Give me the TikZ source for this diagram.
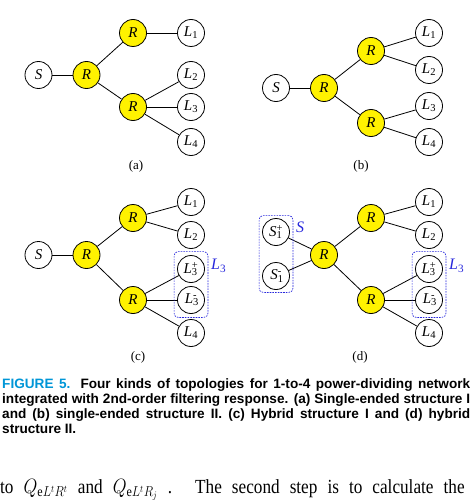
\documentclass[tikz,border=0pt]{standalone}
\usepackage{fontspec}
\setmainfont{Liberation Serif}
\newfontfamily\capfont{Liberation Sans}
\usetikzlibrary{fit}
\definecolor{ryel}{RGB}{255,242,0}
\definecolor{bblue}{RGB}{40,40,220}
\definecolor{figcyan}{RGB}{0,150,215}
\tikzset{
 nd/.style={circle, draw, line width=0.8pt, minimum size=27pt, inner sep=0pt, font=\fontsize{15}{15}\selectfont},
 res/.style={nd, fill=ryel},
 ld/.style={nd, fill=white},
 edge/.style={line width=0.8pt},
 grp/.style={draw=bblue, dash pattern=on 1.6pt off 1.1pt, rounded corners=4pt, line width=0.7pt},
 glab/.style={text=bblue, font=\fontsize{16}{16}\selectfont, inner sep=0pt},
 sublab/.style={font=\fontsize{13}{13}\selectfont, inner sep=0pt},
 capline/.style={anchor=base west, inner sep=0pt, font=\capfont\bfseries\fontsize{13.6}{15}\selectfont}
}
\newcommand\Lx[1]{\textit{L}\textsubscript{#1}}
\newcommand\Lpm[1]{\textit{L}\makebox[0pt][l]{\textsubscript{3}}\textsuperscript{#1}}
\newcommand\Spm[1]{\textit{S}\makebox[0pt][l]{\textsubscript{1}}\textsuperscript{#1}}
\begin{document}
\begin{tikzpicture}[x=1pt,y=-1pt]
\useasboundingbox (0,0) rectangle (474,500);
% ---------- (a)
\node[ld]  (aS)  at (38.5,75)  {\textit{S}};
\node[res] (aR)  at (86.5,75)  {\textit{R}};
\node[res] (aRt) at (133,33)   {\textit{R}};
\node[res] (aRb) at (133,107)  {\textit{R}};
\node[ld]  (aL1) at (191,33)   {\Lx{1}};
\node[ld]  (aL2) at (191,75)   {\Lx{2}};
\node[ld]  (aL3) at (191,107)  {\Lx{3}};
\node[ld]  (aL4) at (191,142)  {\Lx{4}};
\draw[edge] (aS) -- (aR);
\draw[edge] (aR) -- (aRt);
\draw[edge] (aR) -- (aRb);
\draw[edge] (aRt) -- (aL1);
\draw[edge] (aRb) -- (aL2);
\draw[edge] (aRb) -- (aL3);
\draw[edge] (aRb) -- (aL4);
\node[sublab] (la) at (136,166) {(a)};
% ---------- (b)
\node[ld]  (bS)  at (276,88)   {\textit{S}};
\node[res] (bR)  at (324,88)   {\textit{R}};
\node[res] (bRt) at (371,51)   {\textit{R}};
\node[res] (bRb) at (371,123)  {\textit{R}};
\node[ld]  (bL1) at (429,33)   {\Lx{1}};
\node[ld]  (bL2) at (429,70)   {\Lx{2}};
\node[ld]  (bL3) at (429,106)  {\Lx{3}};
\node[ld]  (bL4) at (429,142)  {\Lx{4}};
\draw[edge] (bS) -- (bR);
\draw[edge] (bR) -- (bRt);
\draw[edge] (bR) -- (bRb);
\draw[edge] (bRt) -- (bL1);
\draw[edge] (bRt) -- (bL2);
\draw[edge] (bRb) -- (bL3);
\draw[edge] (bRb) -- (bL4);
\node[sublab] (lb) at (361,166) {(b)};
% ---------- (c)
\node[ld]  (cS)  at (38.5,255) {\textit{S}};
\node[res] (cR)  at (86.5,255) {\textit{R}};
\node[res] (cRt) at (133,218)  {\textit{R}};
\node[res] (cRb) at (133,300)  {\textit{R}};
\node[ld]  (cL1) at (191,202)  {\Lx{1}};
\node[ld]  (cL2) at (191,235)  {\Lx{2}};
\node[ld]  (cL3p) at (191,269) {\Lpm{+}};
\node[ld]  (cL3m) at (191,300) {\Lpm{-}};
\node[ld]  (cL4) at (191,333)  {\Lx{4}};
\draw[edge] (cS) -- (cR);
\draw[edge] (cR) -- (cRt);
\draw[edge] (cR) -- (cRb);
\draw[edge] (cRt) -- (cL1);
\draw[edge] (cRt) -- (cL2);
\draw[edge] (cRb) -- (cL3p);
\draw[edge] (cRb) -- (cL3m);
\draw[edge] (cRb) -- (cL4);
\node[grp, fit=(cL3p)(cL3m), inner xsep=3pt, inner ysep=3.5pt] (cG) {};
\node[glab, anchor=west] (cGl) at (211,266) {\Lx{3}};
\node[sublab] (lc) at (138,357) {(c)};
% ---------- (d)
\node[ld]  (dSp) at (276,232)  {\Spm{+}};
\node[ld]  (dSm) at (276,276)  {\Spm{-}};
\node[res] (dR)  at (324,255)  {\textit{R}};
\node[res] (dRt) at (371,218)  {\textit{R}};
\node[res] (dRb) at (371,300)  {\textit{R}};
\node[ld]  (dL1) at (429,202)  {\Lx{1}};
\node[ld]  (dL2) at (429,235)  {\Lx{2}};
\node[ld]  (dL3p) at (429,269) {\Lpm{+}};
\node[ld]  (dL3m) at (429,300) {\Lpm{-}};
\node[ld]  (dL4) at (429,333)  {\Lx{4}};
\draw[edge] (dSp) -- (dR);
\draw[edge] (dSm) -- (dR);
\draw[edge] (dR) -- (dRt);
\draw[edge] (dR) -- (dRb);
\draw[edge] (dRt) -- (dL1);
\draw[edge] (dRt) -- (dL2);
\draw[edge] (dRb) -- (dL3p);
\draw[edge] (dRb) -- (dL3m);
\draw[edge] (dRb) -- (dL4);
\node[grp, fit=(dSp)(dSm), inner xsep=3pt, inner ysep=2.5pt] (dGs) {};
\node[glab, anchor=west] (dGsl) at (296,227) {\textit{S}};
\node[grp, fit=(dL3p)(dL3m), inner xsep=3pt, inner ysep=3.5pt] (dG) {};
\node[glab, anchor=west] (dGl) at (449,266) {\Lx{3}};
\node[sublab] (ld) at (360,357) {(d)};
% ---------- caption
\node[capline] (cap1) at (2,388)   {\makebox[468pt][s]{{\color{figcyan}FIGURE 5.} Four kinds of topologies for 1-to-4 power-dividing network}};
\node[capline] (cap2) at (2,403.3) {\makebox[468pt][s]{integrated with 2nd-order filtering response. (a) Single-ended structure I}};
\node[capline] (cap3) at (2,418.6) {\makebox[468pt][s]{and (b) single-ended structure II. (c) Hybrid structure I and (d) hybrid}};
\node[capline] (cap4) at (2,433.9) {structure II.};
% ---------- body text line
\begin{scope}
\clip (0,0) rectangle (474,500);
\node[anchor=base west, inner sep=0pt, font=\fontsize{20}{20}\selectfont] (body) at (0,493)
 {\scalebox{0.86}[1]{\makebox[540pt][s]{to \(Q_{\mathrm{e}L^{t}R^{t}}\) and \(Q_{\mathrm{e}L^{t}R_{j}}\) . The second step is to calculate the}}};
\end{scope}
\end{tikzpicture}
\end{document}
